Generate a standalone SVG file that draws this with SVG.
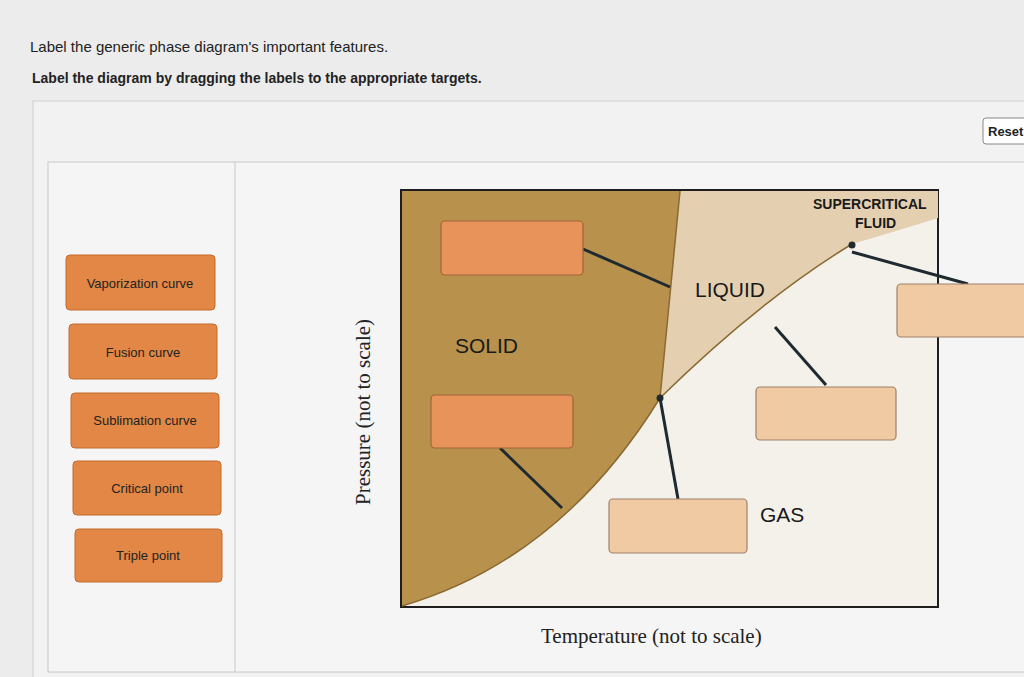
<svg xmlns="http://www.w3.org/2000/svg" width="1024" height="677" viewBox="0 0 1024 677">
<style>
.t{font-family:"Liberation Sans",Arial,sans-serif;fill:#222}
.lbl{fill:#e28745;stroke:#c46a2c;stroke-width:1}
.tgt{fill:#e8935a;stroke:#a0643a;stroke-width:1.2}
.tgl{fill:#f0caa2;stroke:#a0806a;stroke-width:1.2}
.c{stroke:#1e2a30;stroke-width:3;fill:none}
.ph{font-family:"Liberation Sans",Arial,sans-serif;font-size:21px;fill:#1a1a1a}
.sf{font-family:"Liberation Sans",Arial,sans-serif;font-size:14px;font-weight:bold;fill:#1a1a1a}
.ax{font-family:"Liberation Serif","Times New Roman",serif;font-size:21px;fill:#222}
</style>
<rect width="1024" height="677" fill="#ececec"/>
<text class="t" x="30" y="52" font-size="15">Label the generic phase diagram's important features.</text>
<text class="t" x="32" y="83" font-size="14" font-weight="bold">Label the diagram by dragging the labels to the appropriate targets.</text>
<rect x="33" y="101" width="1000" height="590" fill="#f2f2f2" stroke="#cfcfcf"/>
<rect x="48" y="162" width="990" height="510" fill="#f5f5f5" stroke="#c8c8c8"/>
<line x1="235" y1="162" x2="235" y2="672" stroke="#c8c8c8"/>
<g id="reset"><rect x="983" y="118" width="50" height="26" rx="3" fill="#fff" stroke="#888"/><text class="t" x="988" y="136" font-size="13" font-weight="bold">Reset</text></g>
<g id="chart">
<rect x="401" y="190" width="537" height="417" fill="#f4f1eb" stroke="#1e1e1e" stroke-width="2"/>
<path d="M680 191 L938 191 L938 218 Q900 230 852 244 Q760 300 660 398 Z" fill="#e4d0b0"/>
<path d="M402 191 L680 191 L660 398 Q560 560 402 606 Z" fill="#b8914c"/>
<path d="M680 191 L660 398 Q560 560 402 606" fill="none" stroke="#8a6a33" stroke-width="1.5"/>
<path d="M660 398 Q760 300 852 244" fill="none" stroke="#8a6a33" stroke-width="1.5"/>
<circle cx="660" cy="398" r="3.5" fill="#1e2a30"/>
<circle cx="852" cy="245" r="3.5" fill="#1e2a30"/>
<text class="ph" x="455" y="353">SOLID</text>
<text class="ph" x="695" y="297">LIQUID</text>
<text class="ph" x="760" y="522">GAS</text>
<text class="sf" x="813" y="209">SUPERCRITICAL</text>
<text class="sf" x="855" y="228">FLUID</text>
<text class="ax" x="541" y="643">Temperature (not to scale)</text>
<text class="ax" transform="translate(370 505) rotate(-90)">Pressure (not to scale)</text>
</g>
<g id="connectors">
<line class="c" x1="583" y1="249" x2="670" y2="287"/>
<line class="c" x1="852" y1="252" x2="968" y2="284"/>
<line class="c" x1="775" y1="327" x2="826" y2="385"/>
<line class="c" x1="500" y1="448" x2="562" y2="508"/>
<line class="c" x1="660" y1="398" x2="678" y2="499"/>
</g>
<g id="targets">
<rect class="tgt" x="441" y="221" width="142" height="54" rx="4"/>
<rect class="tgt" x="431" y="395" width="142" height="53" rx="4"/>
<rect class="tgl" x="897" y="284" width="135" height="53" rx="4"/>
<rect class="tgl" x="756" y="387" width="140" height="53" rx="4"/>
<rect class="tgl" x="609" y="499" width="138" height="54" rx="4"/>
</g>
<g id="labels">
<g id="l1"><rect class="lbl" x="66" y="255" width="149" height="55" rx="4"/><text class="t" x="140" y="288" font-size="13" text-anchor="middle">Vaporization curve</text></g>
<g id="l2"><rect class="lbl" x="69" y="324" width="148" height="55" rx="4"/><text class="t" x="143" y="357" font-size="13" text-anchor="middle">Fusion curve</text></g>
<g id="l3"><rect class="lbl" x="71" y="393" width="148" height="55" rx="4"/><text class="t" x="145" y="425" font-size="13" text-anchor="middle">Sublimation curve</text></g>
<g id="l4"><rect class="lbl" x="73" y="461" width="148" height="54" rx="4"/><text class="t" x="147" y="493" font-size="13" text-anchor="middle">Critical point</text></g>
<g id="l5"><rect class="lbl" x="75" y="529" width="147" height="53" rx="4"/><text class="t" x="148" y="560" font-size="13" text-anchor="middle">Triple point</text></g>
</g>
</svg>
